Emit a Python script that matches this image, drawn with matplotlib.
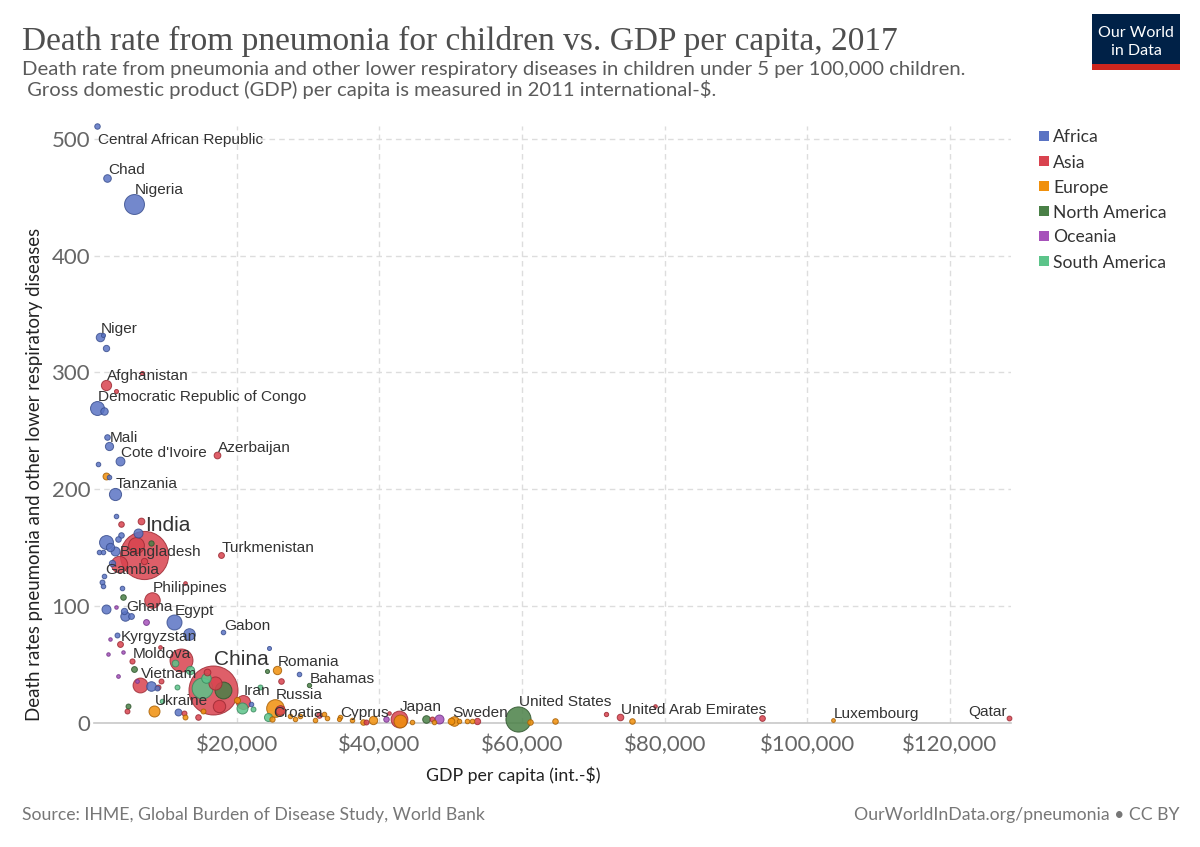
import matplotlib
matplotlib.use("Agg")
import matplotlib.pyplot as plt
from matplotlib.patches import Rectangle
import numpy as np

# ---------------- data ----------------
country = [
    # Africa
    "Central African Republic", "Chad", "Nigeria", "Niger", "", "", "Democratic Republic of Congo", "",
    "", "Mali", "Cote d'Ivoire", "", "", "Tanzania", "", "", "", "", "", "", "", "", "", "",
    "Gambia", "", "", "", "", "", "Ghana", "", "Egypt", "", "Gabon", "", "", "", "", "", "", "",
    # Asia
    "Afghanistan", "", "", "Azerbaijan", "India", "", "", "", "", "Bangladesh", "Turkmenistan", "",
    "Philippines", "Kyrgyzstan", "", "", "Vietnam", "", "", "", "", "China", "", "", "", "", "",
    "Iran", "", "", "", "", "Japan", "", "", "", "United Arab Emirates", "", "", "Qatar",
    # Europe
    "Moldova", "Ukraine", "", "", "Romania", "", "Russia", "Croatia", "", "", "", "", "", "", "",
    "Cyprus", "", "", "", "", "", "", "Sweden", "", "", "", "", "", "", "", "Luxembourg",
    # North America
    "", "", "", "", "", "", "Bahamas", "", "United States",
    # Oceania
    "", "", "", "", "", "", "", "", "",
    # South America
    "", "", "", "", "", "", "", "", "", "", "",
]
continent = (["Africa"] * 42 + ["Asia"] * 41 + ["Europe"] * 31 + ["North America"] * 9
             + ["Oceania"] * 9 + ["South America"] * 11)
gdp = [
    # Africa
    430, 1780, 5570, 800, 1220, 1640, 380, 1360,
    1780, 2060, 3600, 520, 2060, 2900, 3040, 3750, 3320, 6130, 1640, 2220, 1220, 660, 2900, 2480,
    1375, 1080, 1220, 3880, 1640, 4160, 4300, 5150, 11180, 13300, 18070, 3200, 7950, 8790, 11740, 24500, 28710, 22000,
    # Asia
    1650, 6690, 3040, 17210, 6990, 3750, 6550, 5860, 6990, 3460, 17770, 12720,
    8090, 3600, 12190, 9350, 6410, 8930, 4590, 12580, 14540, 16660, 16930, 17500, 15810, 9170, 26190,
    20860, 26050, 31520, 38100, 41320, 42720, 47360, 53680, 71780, 73740, 78640, 93620, 128290,
    # Europe
    5290, 8390, 12720, 15250, 25630, 20020, 25350, 24920, 27450, 28150, 28850, 30950, 32630, 34450, 32210,
    34310, 36140, 37680, 39080, 42870, 44560, 47640, 50030, 50450, 51150, 52270, 52970, 61120, 64630, 75420, 103600,
    # North America
    1640, 7950, 5570, 4730, 18050, 24220, 30110, 46520, 59440,
    # Oceania
    4030, 3040, 2220, 1920, 4030, 3340, 5990, 40900, 48340,
    # South America
    7250, 11320, 13440, 11600, 9490, 15120, 15670, 23240, 20720, 22260, 24360,
]
rate = [
    # Africa
    511, 467, 444, 330, 332, 321, 269.5, 267,
    245, 237, 224, 221.5, 210, 195.8, 177, 161, 157, 162, 155, 150, 146, 146, 147, 137,
    125.5, 120, 117, 115, 97, 95.5, 91.2, 91, 86, 76, 77.5, 75, 31.3, 29.6, 9, 63.8, 41.6, 15.9,
    # Asia
    289, 299.5, 284, 229.3, 143.6, 170, 172.7, 152, 138, 136, 143.5, 119.6,
    105, 67.3, 53.6, 35.6, 32, 30.4, 9.9, 8.1, 4.7, 28, 33.8, 14.1, 43.3, 65, 35.6,
    17.6, 10.7, 6.4, 0.4, 8.1, 3, 3, 1.3, 7.3, 4.7, 14.1, 3.9, 3.9,
    # Europe
    52.7, 9.9, 4.7, 9.9, 45, 19.3, 12.7, 2.6, 5.6, 3, 5.6, 2.1, 3.9, 4.7, 7.3,
    3, 2.1, 0.4, 2.1, 1.3, 0.3, 0.3, 1.7, 1.3, 1.3, 1.3, 1.3, 0.3, 1.3, 1.3, 2.2,
    # North America
    211, 153.6, 45.9, 14.1, 28, 44.1, 32.1, 3, 3,
    # Oceania
    107.5, 99, 71.5, 58.7, 60.4, 40, 35.6, 3, 3,
    # South America
    86, 51, 45, 30.4, 18.4, 29.6, 38.1, 30.4, 12.4, 11.6, 4.7,
]
population_m = [
    # Africa
    4.7, 15, 191, 21, 1, 8, 81, 14,
    5, 19, 24, 2, 2, 57, 2, 5, 5, 25, 80, 20, 2, 2, 25, 8,
    2.1, 3, 2, 2, 25, 8, 29, 6, 97, 50, 2, 3, 30, 3, 11, 1, 2, 2,
    # Asia
    36, 1, 1, 10, 1340, 5, 10, 110, 8, 120, 6, 0.5,
    105, 6, 264, 3, 95, 3, 3, 3, 5, 1390, 69, 60, 10, 0.5, 5,
    81, 30, 5, 3, 0.4, 127, 3, 8, 1.5, 9.4, 0.4, 5.6, 2.6,
    # Europe
    3.5, 44, 3, 3, 20, 7, 144, 4, 2, 2, 2, 2, 2, 2, 2,
    1.2, 2, 5, 20, 66, 2, 2, 10, 30, 2, 2, 2, 5, 5, 5, 0.6,
    # North America
    11, 4, 6, 3, 129, 1, 1.5, 15, 325,
    # Oceania
    5, 0.3, 0.3, 0.3, 0.3, 0.5, 0.5, 4.7, 25,
    # South America
    6, 10, 20, 3, 2, 209, 30, 3, 44, 3, 18,
]
continents = ["Africa", "Asia", "Europe", "North America", "Oceania", "South America"]
y_ticks = [0, 100, 200, 300, 400, 500]
x_ticks = [20000, 40000, 60000, 80000, 100000, 120000]
x_tick_labels = ["$20,000", "$40,000", "$60,000", "$80,000", "$100,000", "$120,000"]

# ---------------- style ----------------
colors = {"Africa": "#5a73c3", "Asia": "#d9434f", "Europe": "#f0900c",
          "North America": "#4a8047", "Oceania": "#a652ba", "South America": "#5cc48a"}
edges = {"Africa": "#3a4f8f", "Asia": "#9c2a33", "Europe": "#a86005",
         "North America": "#2f552d", "Oceania": "#73358a", "South America": "#3b8a5f"}

W, H = 1200, 847
fig = plt.figure(figsize=(W / 100, H / 100), dpi=100)
fig.patch.set_facecolor("white")

def fx(px):
    return px / W

def fy(py):
    return 1 - py / H

XMAX, YMAX = 128500, 511
ax_left, ax_right, ax_top, ax_bottom = 94.3, 1010.5, 126.2, 722.5
ax = fig.add_axes([fx(ax_left), fy(ax_bottom), (ax_right - ax_left) / W, (ax_bottom - ax_top) / H])
ax.set_xlim(0, XMAX)
ax.set_ylim(0, YMAX)

for s in ["left", "right", "top"]:
    ax.spines[s].set_visible(False)
ax.spines["bottom"].set_color("#c8c8c8")
ax.spines["bottom"].set_linewidth(1.2)

ax.set_yticks(y_ticks)
ax.set_yticklabels([str(v) for v in y_ticks])
ax.set_xticks(x_ticks)
ax.set_xticklabels(x_tick_labels)
ax.tick_params(axis="both", length=0, labelsize=16, labelcolor="#666666")
ax.tick_params(axis="x", pad=9)
ax.tick_params(axis="y", pad=3)
for lab in ax.get_xticklabels() + ax.get_yticklabels():
    lab.set_family("Lato")
ax.grid(True, color="#dddddd", linestyle=(0, (4, 3)), linewidth=1.0)
ax.set_axisbelow(True)

# radius in px from population
def radius_px(p):
    return 0.62 * np.sqrt(p) + 1.4

order = np.argsort(population_m)[::-1]
for i in order:
    r = radius_px(population_m[i])
    s = (2 * r * 0.72) ** 2
    ax.scatter(gdp[i], rate[i], s=s, color=colors[continent[i]], alpha=0.85,
               edgecolors=edges[continent[i]], linewidths=0.7, zorder=3, clip_on=False)

# labels
for i, name in enumerate(country):
    if not name:
        continue
    r = radius_px(population_m[i])
    big = name in ("India", "China")
    fs = 15 if big else 11.1
    if name == "Central African Republic":
        off, ha = (0.7, -12.5), "left"
    elif name == "Qatar":
        off, ha = (-1.5, r * 0.72), "right"
    else:
        off, ha = (0.7, r * 0.72), "left"
    ax.annotate(name, (gdp[i], rate[i]), xytext=off, textcoords="offset points",
                ha=ha, va="baseline", fontsize=fs, color="#333333",
                family="Liberation Sans", zorder=5, annotation_clip=False)

# axis titles
fig.text(fx(35), fy(474), "Death rates pneumonia and other lower respiratory diseases",
         rotation=90, ha="center", va="center", fontsize=13.4, color="#222222", family="Lato")
fig.text(fx(513), fy(775), "GDP per capita (int.-$)", ha="center", va="center",
         fontsize=12.8, color="#222222", family="Lato")

# title / subtitle
fig.text(fx(22), fy(50), "Death rate from pneumonia for children vs. GDP per capita, 2017",
         ha="left", va="baseline", fontsize=24, color="#4e4e4e", family="Liberation Serif")
fig.text(fx(22), fy(75), "Death rate from pneumonia and other lower respiratory diseases in children under 5 per 100,000 children.",
         ha="left", va="baseline", fontsize=14.6, color="#5b5b5b", family="Lato")
fig.text(fx(22), fy(96), " Gross domestic product (GDP) per capita is measured in 2011 international-$.",
         ha="left", va="baseline", fontsize=14.6, color="#5b5b5b", family="Lato")

# footer
fig.text(fx(22), fy(820), "Source: IHME, Global Burden of Disease Study, World Bank",
         ha="left", va="baseline", fontsize=12.7, color="#777777", family="Lato")
fig.text(fx(1180), fy(820), "OurWorldInData.org/pneumonia • CC BY",
         ha="right", va="baseline", fontsize=12.7, color="#777777", family="Lato")

# logo
fig.patches.append(Rectangle((fx(1092), fy(70)), 88 / W, 56 / H, transform=fig.transFigure,
                             facecolor="#002147", edgecolor="none"))
fig.patches.append(Rectangle((fx(1092), fy(70)), 88 / W, 6 / H, transform=fig.transFigure,
                             facecolor="#ce261e", edgecolor="none"))
fig.text(fx(1136), fy(33), "Our World", ha="center", va="center", fontsize=11.5, color="white", family="Lato")
fig.text(fx(1136), fy(51), "in Data", ha="center", va="center", fontsize=11.5, color="white", family="Lato")

# legend
for k, c in enumerate(continents):
    yc = 136 + 25 * k
    fig.patches.append(Rectangle((fx(1039), fy(yc + 5)), 10 / W, 10 / H, transform=fig.transFigure,
                                 facecolor=colors[c], edgecolor="none"))
    fig.text(fx(1053), fy(yc + 1.5), c, ha="left", va="center", fontsize=12.6, color="#333333", family="Lato")

fig.savefig("out.png", dpi=100, facecolor="white")
